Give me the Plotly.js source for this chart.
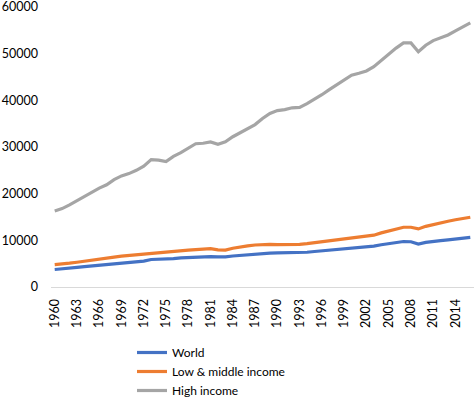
<!DOCTYPE html>
<html>
<head>
<meta charset="utf-8">
<script src="https://cdn.plot.ly/plotly-3.0.1.min.js"></script>
<style>html,body{margin:0;padding:0;background:#fff;}#chart{width:474px;height:397px;}</style>
</head>
<body>
<div id="chart"></div>
<script>
var years = [];
for (var y = 1960; y <= 2016; y++) years.push(y);

var seriesNames = ["World", "Low & middle income", "High income"];

var world = [3750,3850,4000,4200,4350,4500,4650,4800,4950,5100,
  5200,5350,5550,5900,5950,5950,6100,6250,6350,6450,
  6500,6500,6450,6450,6650,6800,6950,7050,7150,7250,
  7300,7300,7300,7300,7450,7600,7750,7950,8050,8200,
  8400,8450,8550,8750,9050,9300,9550,9750,9700,9200,
  9550,9800,9950,10100,10300,10500,10650];

var lowMiddle = [4800,4900,5100,5300,5550,5750,5950,6150,6400,6600,
  6750,6900,7050,7300,7400,7450,7600,7750,7900,8000,
  8150,8200,7950,7900,8300,8600,8800,9000,9100,9150,
  9100,9100,9100,9150,9300,9500,9700,9950,10100,10300,
  10500,10700,10850,11100,11600,12000,12500,12800,12800,12450,
  13000,13400,13800,14100,14400,14700,14950];

var highIncome = [16300,16800,17600,18500,19400,20300,21200,21900,23000,23800,
  24300,25000,25900,27300,27200,26900,28000,28800,29700,30700,
  30800,31100,30600,31100,32200,33100,33900,34800,36100,37200,
  37800,38000,38400,38500,39300,40200,41200,42300,43300,44500,
  45400,45800,46300,47200,48600,49900,51200,52300,52300,50400,
  51800,52800,53400,54000,54900,55800,56600];

var xTickVals = [1960,1963,1966,1969,1972,1975,1978,1981,1984,1987,1990,1993,1996,1999,2002,2005,2008,2011,2014];
var xTickText = xTickVals.map(String);
var yTickVals = [0,10000,20000,30000,40000,50000,60000];
var yTickText = ["0","10000","20000","30000","40000","50000","60000"];

var colors = ["#4472C4", "#ED7D31", "#A5A5A5"];
var allSeries = [world, lowMiddle, highIncome];

var traces = allSeries.map(function(vals, i) {
  return {
    x: years, y: vals, type: "scatter", mode: "lines",
    name: seriesNames[i],
    line: {color: colors[i], width: 3.2},
    hoverinfo: "skip"
  };
});

var font = {family: "Lato, 'Open Sans', sans-serif", size: 12.5, color: "#000"};
var legendFont = {family: "Lato, 'Open Sans', sans-serif", size: 12, color: "#000"};

var layout = {
  width: 474, height: 397,
  margin: {l: 51, r: 0, t: 7, b: 110, autoexpand: false},
  paper_bgcolor: "#fff", plot_bgcolor: "#fff",
  font: font,
  showlegend: true,
  legend: {
    xref: "paper", yref: "container",
    x: (132 - 51) / 423, xanchor: "left",
    y: 1 - 338 / 397, yanchor: "top",
    orientation: "v",
    font: legendFont,
    traceorder: "normal",
    itemwidth: 30,
    tracegroupgap: 0,
    bgcolor: "rgba(0,0,0,0)"
  },
  xaxis: {
    range: [1959.5, 2016.5],
    tickmode: "array", tickvals: xTickVals, ticktext: xTickText,
    tickangle: -90,
    showgrid: false, zeroline: false,
    showline: true, linecolor: "#D9D9D9", linewidth: 1,
    ticks: "", ticklabelstandoff: 6,
    automargin: false,
    tickfont: font
  },
  yaxis: {
    range: [0, 60000],
    tickmode: "array", tickvals: yTickVals, ticktext: yTickText,
    showgrid: false, zeroline: false, showline: false,
    ticks: "", ticklabelstandoff: 12,
    ticklabeloverflow: "allow",
    automargin: false,
    tickfont: font
  }
};

Plotly.newPlot("chart", traces, layout, {displayModeBar: false, staticPlot: true});
</script>
</body>
</html>
